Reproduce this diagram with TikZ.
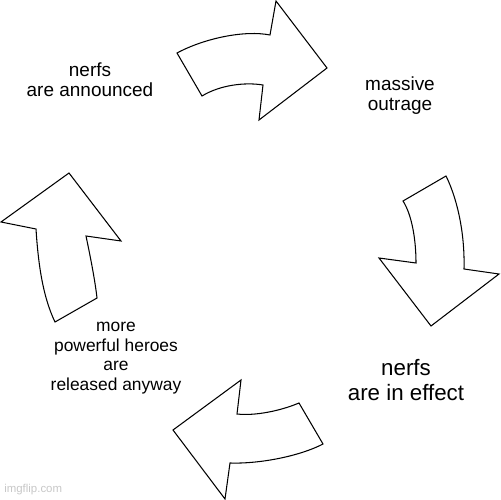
\documentclass[tikz,border=0pt]{standalone}
\usepackage{fontspec}
\setmainfont{Liberation Sans}
\usetikzlibrary{positioning}

\tikzset{
  pfeil/.style={draw=black, line width=0.6pt, line join=miter, fill=white},
  txt/.style={align=center, inner sep=0pt, font=\fontsize{10.8}{11.3}\selectfont},
}

\begin{document}
\begin{tikzpicture}[x=0.02cm, y=-0.02cm]
  \useasboundingbox (0,0) rectangle (500,500);

  % Pfeil oben
  \draw[pfeil] (177,53) .. controls (205,38) and (245,30) .. (270,35)
    -- (276,1) -- (327,68) -- (259,120) -- (263,85)
    .. controls (245,82) and (220,85) .. (202,96) -- cycle;

  % Pfeil rechts
  \draw[pfeil] (403,201) -- (446,176)
    .. controls (456,196) and (465,230) .. (464,269)
    -- (499,274) -- (431,326) -- (379,258) -- (416,263)
    .. controls (416,240) and (412,215) .. cycle;

  % Pfeil unten
  \draw[pfeil] (241,380) -- (237,414)
    .. controls (255,416) and (280,411) .. (299,403)
    -- (323,444)
    .. controls (300,456) and (260,464) .. (230,463)
    -- (225,499) -- (173,430) -- cycle;

  % Pfeil links
  \draw[pfeil] (69,173) -- (121,241) -- (86,236)
    .. controls (90,255) and (95,280) .. (97,298)
    -- (55,322)
    .. controls (42,295) and (38,260) .. (36,229)
    -- (1,222) -- cycle;

  % Texte
  \node[txt] (announced) at (90,80) {nerfs\\are announced};
  \node[txt] (outrage) at (400,96) {massive\\outrage};
  \node[txt, font=\fontsize{12.7}{14.2}\selectfont] (effect) at (406,380)
    {nerfs\\are in effect};
  \node[txt, font=\fontsize{9.9}{11.2}\selectfont] (released) at (116,358)
    {more\\powerful heroes\\are\\released anyway};

  % Wasserzeichen
  \node[anchor=west, inner sep=0pt, text=black!22,
    font=\fontsize{6.5}{7}\selectfont] (imgflip) at (4,490) {imgflip.com};
\end{tikzpicture}
\end{document}
